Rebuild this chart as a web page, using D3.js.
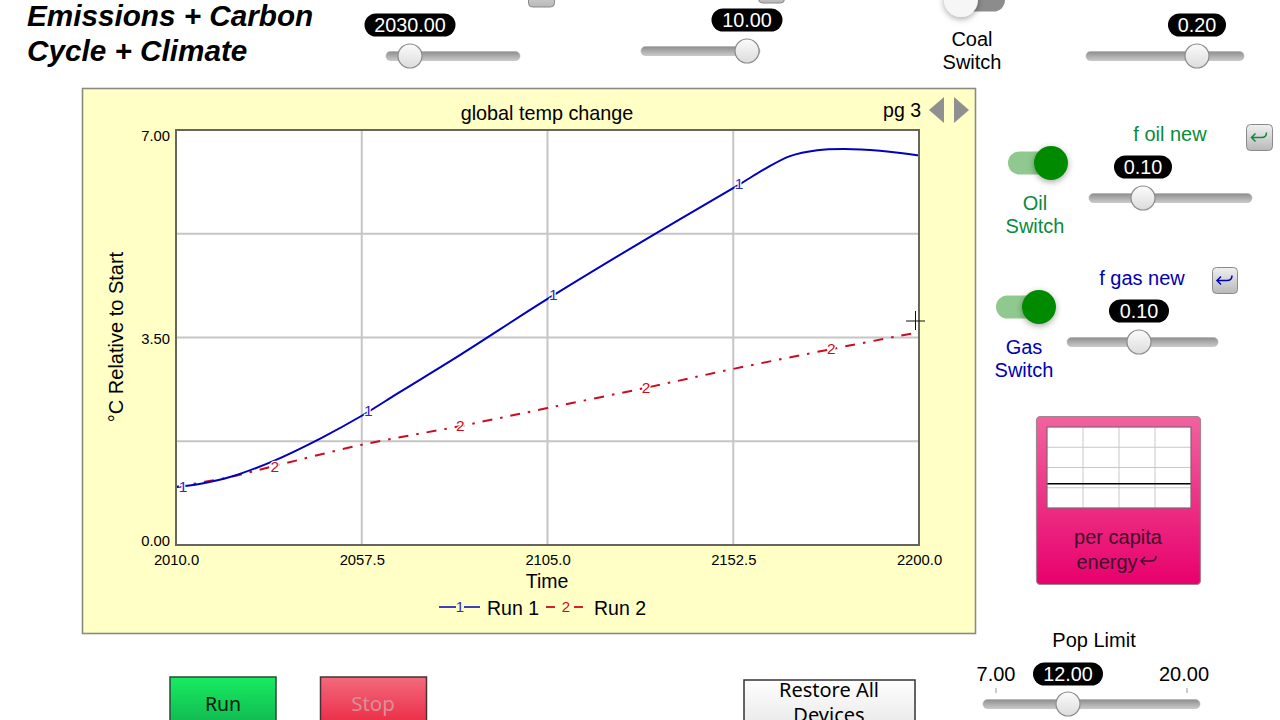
<!DOCTYPE html>
<html>
<head>
<meta charset="utf-8">
<script src="https://cdn.jsdelivr.net/npm/d3@7"></script>
<style>
  html, body { margin: 0; padding: 0; background: #fff; overflow: hidden; }
  text { font-family: "Liberation Sans", Arial, sans-serif; }
</style>
</head>
<body>
<div id="chart"></div>
<script>
const run1Years = [2010, 2016, 2024, 2035, 2047, 2057.5, 2067, 2083, 2105, 2131, 2154, 2160.5, 2167, 2174, 2181, 2190, 2200];
const run1Temps = [0.98, 1.03, 1.15, 1.42, 1.80, 2.18, 2.57, 3.22, 4.15, 5.19, 6.08, 6.34, 6.56, 6.66, 6.68, 6.65, 6.57];
const run2Years = [2010, 2024, 2035, 2057.5, 2083, 2105, 2130, 2152.5, 2178, 2200];
const run2Temps = [0.98, 1.15, 1.33, 1.69, 2.01, 2.31, 2.65, 2.97, 3.31, 3.59];

// the little numbers sitting on the curves
const run1MarkYears = [2011.8, 2059.2, 2106.5, 2154];
const run1MarkTemps = [0.98, 2.27, 4.22, 6.09];
const run2MarkYears = [2035.3, 2082.7, 2130.2, 2177.6];
const run2MarkTemps = [1.33, 2.02, 2.65, 3.31];

const xTicks = [2010, 2057.5, 2105, 2152.5, 2200];
const yTicks = [0, 3.5, 7];
const yGrid = [1.75, 3.5, 5.25];

const miniYears = [0, 1];
const miniValues = [0.3, 0.3];

const blue = "#0000c0", red = "#cc0a20", green = "#0a8a3c", gasBlue = "#0000b4";

const svg = d3.select("#chart").append("svg")
  .attr("width", 1280).attr("height", 720)
  .style("display", "block");

const defs = svg.append("defs");

function gradient(id, top, bottom) {
  const g = defs.append("linearGradient").attr("id", id)
    .attr("x1", 0).attr("x2", 0).attr("y1", 0).attr("y2", 1);
  g.append("stop").attr("offset", "0%").attr("stop-color", top);
  g.append("stop").attr("offset", "100%").attr("stop-color", bottom);
}
gradient("pink", "#f2629f", "#e8006c");
gradient("runBtn", "#16ec60", "#119448");
gradient("stopBtn", "#f26a7c", "#e80020");
gradient("greyBtn", "#ffffff", "#d8d8d8");
gradient("smallBtn", "#f0f0f0", "#b8b8b8");
gradient("thumb", "#fbfbfb", "#dcdcdc");
gradient("track", "#8e8e8e", "#c8c8c8");

const shadow = defs.append("filter").attr("id", "shadow")
  .attr("x", "-50%").attr("y", "-50%").attr("width", "200%").attr("height", "200%");
shadow.append("feDropShadow").attr("dx", 0).attr("dy", 2).attr("stdDeviation", 3)
  .attr("flood-color", "#000").attr("flood-opacity", 0.35);

function label(x, y, str, size, opts = {}) {
  return svg.append("text")
    .attr("x", x).attr("y", y)
    .attr("text-anchor", opts.anchor || "middle")
    .attr("font-size", size)
    .attr("fill", opts.fill || "#000")
    .attr("font-weight", opts.weight || null)
    .attr("font-style", opts.style || null)
    .style("font-family", opts.family || null)
    .text(str);
}

// title
label(27, 26, "Emissions + Carbon", 29.7, { anchor: "start", weight: "bold", style: "italic" });
label(27, 61, "Cycle + Climate", 29.7, { anchor: "start", weight: "bold", style: "italic" });

// ---------- yellow panel and plot ----------
svg.append("rect")
  .attr("x", 82.5).attr("y", 88.5).attr("width", 893).attr("height", 545)
  .attr("fill", "#ffffc6").attr("stroke", "#8a8a80").attr("stroke-width", 1.6);

const margin = { top: 130, right: 361, bottom: 175, left: 176 };
const width = 1280 - margin.left - margin.right;
const height = 720 - margin.top - margin.bottom;

const plot = svg.append("g").attr("transform", `translate(${margin.left},${margin.top})`);

const x = d3.scaleLinear().domain([2010, 2200]).range([0, width]);
const y = d3.scaleLinear().domain([0, 7]).range([height, 0]);

plot.append("rect").attr("width", width).attr("height", height).attr("fill", "#fff");

plot.selectAll(".vgrid").data(xTicks.slice(1, -1)).enter().append("line")
  .attr("x1", d => x(d)).attr("x2", d => x(d))
  .attr("y1", 0).attr("y2", height)
  .attr("stroke", "#c6c6c6").attr("stroke-width", 2);

plot.selectAll(".hgrid").data(yGrid).enter().append("line")
  .attr("x1", 0).attr("x2", width)
  .attr("y1", d => y(d)).attr("y2", d => y(d))
  .attr("stroke", "#c6c6c6").attr("stroke-width", 2);

const line = d3.line().x(d => x(d[0])).y(d => y(d[1])).curve(d3.curveCatmullRom);

plot.append("path")
  .attr("d", line(d3.zip(run2Years, run2Temps)))
  .attr("fill", "none").attr("stroke", red).attr("stroke-width", 2)
  .attr("stroke-dasharray", "10 8 2.5 8");

plot.append("path")
  .attr("d", line(d3.zip(run1Years, run1Temps)))
  .attr("fill", "none").attr("stroke", blue).attr("stroke-width", 2);

plot.append("rect").attr("width", width).attr("height", height)
  .attr("fill", "none").attr("stroke", "#666660").attr("stroke-width", 2);

function marks(years, temps, str, color) {
  plot.selectAll(null).data(d3.zip(years, temps)).enter().append("text")
    .attr("x", d => x(d[0])).attr("y", d => y(d[1]) + 5.5)
    .attr("text-anchor", "middle").attr("font-size", 15.5)
    .attr("fill", color)
    .attr("stroke", "#fff").attr("stroke-width", 2.5).attr("paint-order", "stroke")
    .text(str);
}
marks(run1MarkYears, run1MarkTemps, "1", "#2a2ac0");
marks(run2MarkYears, run2MarkTemps, "2", red);

const xAxis = plot.append("g")
  .attr("transform", `translate(0,${height})`)
  .call(d3.axisBottom(x).tickValues(xTicks).tickFormat(d3.format(".1f")).tickSize(0).tickPadding(9));
const yAxis = plot.append("g")
  .call(d3.axisLeft(y).tickValues(yTicks).tickFormat(d3.format(".2f")).tickSize(0).tickPadding(6));
[xAxis, yAxis].forEach(a => {
  a.select(".domain").remove();
  a.selectAll("text").attr("font-size", 14.8).attr("fill", "#000")
    .style("font-family", '"Liberation Sans", Arial, sans-serif');
});
// end labels are pulled inside the frame, as in the original
yAxis.selectAll("text").attr("dy", d => d === 7 ? "0.73em" : d === 0 ? "0.05em" : "0.38em");

label(547, 120, "global temp change", 19.8);
label(547, 588, "Time", 19.5);
svg.append("text")
  .attr("transform", "translate(123,337) rotate(-90)")
  .attr("text-anchor", "middle").attr("font-size", 20)
  .text("°C Relative to Start");

label(921, 117, "pg 3", 19.5, { anchor: "end" });
svg.append("path").attr("d", d3.line()([[944, 97], [944, 123], [929, 110]])).attr("fill", "#909090");
svg.append("path").attr("d", d3.line()([[954, 97], [954, 123], [969, 110]])).attr("fill", "#909090");

// legend
function legendLine(x1, x2, color) {
  svg.append("line").attr("x1", x1).attr("x2", x2).attr("y1", 607).attr("y2", 607)
    .attr("stroke", color).attr("stroke-width", 1.8);
}
legendLine(439, 456, "#2a2ac0");
legendLine(464, 480, "#2a2ac0");
label(460, 612, "1", 15, { fill: "#2a2ac0" });
label(487, 615, "Run 1", 19.5, { anchor: "start" });
legendLine(546, 555, red);
legendLine(574, 583, red);
label(566, 612, "2", 15, { fill: red });
label(594, 615, "Run 2", 19.5, { anchor: "start" });

// mouse cursor left in the screenshot
svg.append("path").attr("d", "M906 321H925M915.500 311V330").attr("stroke", "#111").attr("stroke-width", 1).attr("fill", "none");

// ---------- controls ----------
function slider(x1, x2, yy, tx, value, pillW, pillY) {
  svg.append("rect").attr("x", x1).attr("y", yy - 4.500).attr("width", x2 - x1).attr("height", 9)
    .attr("rx", 4.500).attr("fill", "url(#track)").attr("stroke", "#aaa").attr("stroke-width", 0.5);
  svg.append("circle").attr("cx", tx).attr("cy", yy).attr("r", 12)
    .attr("fill", "url(#thumb)").attr("stroke", "#8c8c8c").attr("stroke-width", 1.2);
  svg.append("rect").attr("x", tx - pillW / 2).attr("y", pillY - 11.500).attr("width", pillW).attr("height", 23)
    .attr("rx", 11.500).attr("fill", "#000");
  label(tx, pillY + 7, value, 19.8, { fill: "#fff" });
}
slider(386, 520, 56, 410, "2030.00", 91, 25);
slider(641, 760, 51, 747, "10.00", 71, 20);
slider(1086, 1244, 56, 1197, "0.20", 58, 25);
slider(1089, 1252, 198, 1143, "0.10", 58, 167);
slider(1067, 1218, 342, 1139, "0.10", 60, 311);
slider(983, 1200, 704, 1068, "12.00", 70, 674);

function toggle(x1, x2, yy, kx, trackFill, knobFill) {
  svg.append("rect").attr("x", x1).attr("y", yy - 11.500).attr("width", x2 - x1).attr("height", 23)
    .attr("rx", 11.500).attr("fill", trackFill);
  svg.append("circle").attr("cx", kx).attr("cy", yy).attr("r", 17)
    .attr("fill", knobFill).attr("filter", "url(#shadow)");
}
toggle(945, 1005, 0, 961, "#8c8c8c", "#f6f6f6");
toggle(1008, 1060, 163, 1051, "#8fc98f", "#008a00");
toggle(996, 1048, 307, 1039, "#8fc98f", "#008a00");

label(972, 46, "Coal", 20);
label(972, 69, "Switch", 20);
label(1035, 210, "Oil", 20, { fill: green });
label(1035, 233, "Switch", 20, { fill: green });
label(1024, 354, "Gas", 20, { fill: gasBlue });
label(1024, 377, "Switch", 20, { fill: gasBlue });

label(1170, 141, "f oil new", 20, { fill: green });
label(1142, 285, "f gas new", 20, { fill: gasBlue });

function returnArrow(cx, cy, color, w = 1.5) {
  svg.append("path")
    .attr("d", `M${cx + 7} ${cy - 5}q0 5 -5 5h-10m4 -4l-4 4l4 4`)
    .attr("fill", "none").attr("stroke", color).attr("stroke-width", w);
}
function smallButton(x0, y0, w, h, color) {
  svg.append("rect").attr("x", x0).attr("y", y0).attr("width", w).attr("height", h)
    .attr("rx", 4).attr("fill", "url(#smallBtn)").attr("stroke", "#8a8a8a");
  if (color) returnArrow(x0 + w / 2, y0 + h / 2, color);
}
smallButton(1246.500, 124.500, 26, 26, green);
smallButton(1212.500, 267.500, 25, 26, gasBlue);
smallButton(528.500, -20, 26, 27);
smallButton(758.500, -24, 26, 27);

// pop limit scale
label(1094, 647, "Pop Limit", 20);
label(996, 681, "7.00", 20);
label(1184, 681, "20.00", 20);
svg.append("path").attr("d", "M996 688V693M1187 688V693").attr("stroke", "#999").attr("stroke-width", 1);

// ---------- per capita energy mini graph ----------
svg.append("rect").attr("x", 1036.500).attr("y", 416.500).attr("width", 164).attr("height", 168)
  .attr("rx", 4).attr("fill", "url(#pink)").attr("stroke", "#a0868f").attr("stroke-width", 1.2);

const miniG = svg.append("g").attr("transform", "translate(1047,427)");
const miniW = 144, miniH = 81;
const mx = d3.scaleLinear().domain([0, 1]).range([0, miniW]);
const my = d3.scaleLinear().domain([0, 1]).range([miniH, 0]);
miniG.append("rect").attr("width", miniW).attr("height", miniH).attr("fill", "#fff");
miniG.selectAll(null).data([0.25, 0.5, 0.75]).enter().append("line")
  .attr("x1", d => mx(d)).attr("x2", d => mx(d)).attr("y1", 0).attr("y2", miniH)
  .attr("stroke", "#c8c8c8");
miniG.selectAll(null).data([0.25, 0.5, 0.75]).enter().append("line")
  .attr("x1", 0).attr("x2", miniW).attr("y1", d => my(d)).attr("y2", d => my(d))
  .attr("stroke", "#c8c8c8");
miniG.append("path")
  .attr("d", d3.line().x(d => mx(d[0])).y(d => my(d[1]))(d3.zip(miniYears, miniValues)))
  .attr("stroke", "#000").attr("stroke-width", 1.500).attr("fill", "none");
miniG.append("rect").attr("width", miniW).attr("height", miniH)
  .attr("fill", "none").attr("stroke", "#85606f").attr("stroke-width", 1.200);

label(1118, 544, "per capita", 20, { fill: "#40102a" });
label(1107, 569, "energy", 20, { fill: "#40102a" });
returnArrow(1149, 561, "#40102a");

// ---------- bottom buttons ----------
const btnFont = '"Noto Sans", sans-serif';
function bigButton(x0, w, y0, fill, stroke) {
  svg.append("rect").attr("x", x0).attr("y", y0).attr("width", w).attr("height", 80)
    .attr("fill", fill).attr("stroke", stroke).attr("stroke-width", 1.500);
}
bigButton(170, 106, 677, "url(#runBtn)", "#2a4a38");
bigButton(320.500, 106, 677, "url(#stopBtn)", "#4a3034");
bigButton(744, 171, 680, "url(#greyBtn)", "#333");
label(223, 711, "Run", 19.5, { family: btnFont, fill: "#04200f" });
label(373, 711, "Stop", 20.5, { family: btnFont, fill: "#d89098" });
label(829, 697, "Restore All", 20, { family: btnFont });
label(829, 722, "Devices", 20, { family: btnFont });
</script>
</body>
</html>
